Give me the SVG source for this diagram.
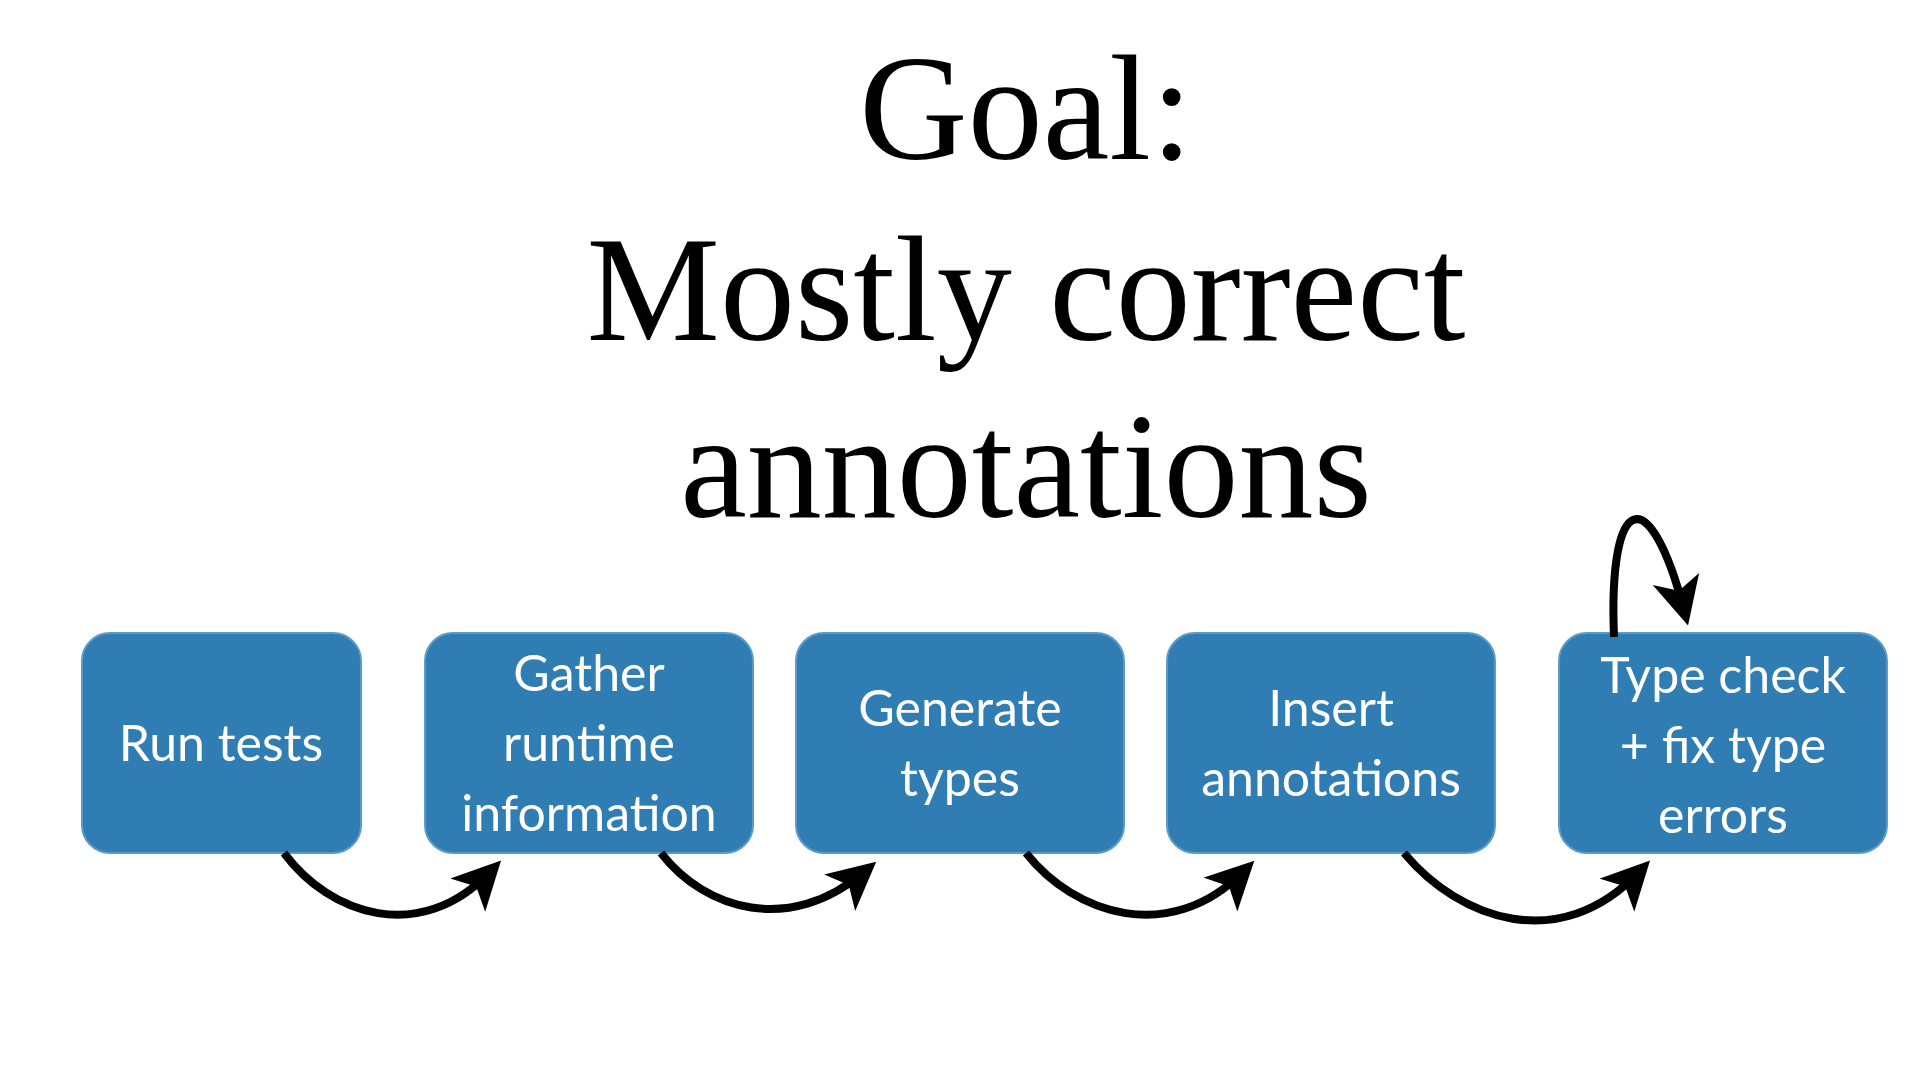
<svg xmlns="http://www.w3.org/2000/svg" width="1920" height="1080" viewBox="0 0 1920 1080">
<style>
.t{font-family:"Liberation Serif",serif;font-size:150px;fill:#000;text-anchor:middle}
.b{fill:#2f7db3;stroke:#5b9bc8;stroke-width:2}
.l{font-family:Lato,"Open Sans",sans-serif;font-size:50px;fill:#fff;text-anchor:middle}
.c{fill:none;stroke:#000;stroke-width:8;marker-end:url(#ah)}
</style>
<defs>
<marker id="ah" markerWidth="8" markerHeight="8" refX="4" refY="3" orient="auto" markerUnits="strokeWidth"><path d="M0,0 L6,3 L0,6 L1.5,3 Z" fill="#000"/></marker>
</defs>
<rect width="1920" height="1080" fill="#fff"/>
<text class="t" x="1026" y="159">Goal:</text>
<text class="t" x="1026" y="340">Mostly correct</text>
<text class="t" x="1026" y="517">annotations</text>
<g id="n1"><rect class="b" x="82" y="633" width="279" height="220" rx="28"/><text class="l" x="221" y="761">Run tests</text></g>
<g id="n2"><rect class="b" x="425" y="633" width="328" height="220" rx="28"/><text class="l" x="589" y="691">Gather</text><text class="l" x="589" y="761">runtime</text><text class="l" x="589" y="831">information</text></g>
<g id="n3"><rect class="b" x="796" y="633" width="328" height="220" rx="28"/><text class="l" x="960" y="726">Generate</text><text class="l" x="960" y="796">types</text></g>
<g id="n4"><rect class="b" x="1167" y="633" width="328" height="220" rx="28"/><text class="l" x="1331" y="726">Insert</text><text class="l" x="1331" y="796">annotations</text></g>
<g id="n5"><rect class="b" x="1559" y="633" width="328" height="220" rx="28"/><text class="l" x="1723" y="693">Type check</text><text class="l" x="1723" y="763">+ fix type</text><text class="l" x="1723" y="833">errors</text></g>
<g id="connectors">
<path class="c" d="M284,853 C330,915 420,945 490,872"/>
<path class="c" d="M661,853 C705,910 790,935 864,872"/>
<path class="c" d="M1026,853 C1075,915 1170,945 1243,872"/>
<path class="c" d="M1404,853 C1460,920 1560,955 1639,872"/>
<path class="c" d="M1614,637 C1608,490 1650,480 1684,610"/>
</g>
</svg>
